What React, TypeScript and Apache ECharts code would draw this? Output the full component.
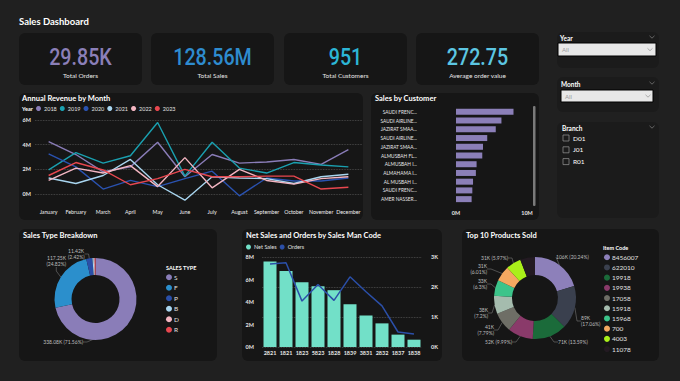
import React, { useEffect, useRef } from 'react';
import * as echarts from 'echarts';

// ---------- data ----------
const kpiValues = ['29.85K', '128.56M', '951', '272.75'];
const kpiLabels = ['Total Orders', 'Total Sales', 'Total Customers', 'Average order value'];

const months = ['January', 'February', 'March', 'April', 'May', 'June', 'July', 'August', 'September', 'October', 'November', 'December'];
const years = ['2018', '2019', '2020', '2021', '2022', '2023'];
const rev2018 = [4.24, 3.2, 1.8, 2.2, 4.2, 1.4, 3.2, 2.5, 2.6, 2.8, 2.4, 3.6];
const rev2019 = [1.95, 3.35, 2.5, 3.1, 5.8, 1.45, 4.2, 2.1, 1.7, 2.55, 2.35, 2.2];
const rev2020 = [3.25, 2.2, 0.4, 1.1, 0.6, 1.25, 1.85, -0.15, 1.3, 1.05, 1.05, 1.3];
const rev2021 = [1.3, 0.85, 1.5, 2.8, 0.75, -0.5, 1.4, 1.3, 1.25, 0.85, 1.4, 1.6];
const rev2022 = [1.1, 2.1, 1.7, 2.3, 0.6, 2.95, 0.5, 2.0, 1.1, 0.8, 1.25, 1.4];
const rev2023 = [1.5, 2.55, 1.95, 0.75, 1.25, 2.0, 1.4, 1.4, 1.45, 1.45, 0.4, 0.55];
const revenueByYear = [rev2018, rev2019, rev2020, rev2021, rev2022, rev2023];

const customers = ['SAUDI FRENC...', 'SAUDI AIRLINE...', 'JAZIRAT SMAA...', 'SAUDI AIRLINE...', 'JAZIRAT SMAA...', 'ALMUSBAH FL...', 'ALMUSBAH I...', 'ALMAHAMA I...', 'AL MUSBAH I...', 'SAUDI FRENC...', 'AMER NASSER...'];
const customerSales = [8.1, 6.4, 5.6, 4.4, 3.8, 3.7, 2.9, 2.8, 2.4, 2.3, 2.2];
const customerTicks = [0, 10];

const salesTypes = ['S', 'F', 'P', 'B', 'D', 'R'];
const salesTypeValues = [338.08, 117.25, 11.42, 2.4, 1.9, 1.39];

const salesmanCodes = ['2821', '1821', '1823', '5823', '1828', '1839', '3831', '2832', '1837', '1838'];
const netSales = [7.6, 6.75, 5.75, 5.4, 5.05, 3.8, 2.8, 2.1, 1.1, 0.65];
const orders = [2770, 2810, 1530, 2085, 1555, 2340, 1840, 1370, 500, 430];

const itemCodes = ['8456007', '622010', '19918', '19938', '17058', '15918', '15968', '700', '4003', '11078'];
const itemSold = [106.0, 89.35, 71.15, 52.3, 40.8, 37.7, 33.0, 31.49, 31.25, 30.6];

const branches = ['D01', 'J01', 'R01'];

// ---------- styles ----------
const FONT = 'Lato, "Open Sans", sans-serif';
const PAGE_BG = '#202020';
const PANEL_BG = '#161616';
const kpiColors = ['#8b7fb8', '#2e8ccf', '#2cb6d6', '#5cc6e2'];
const yearColors = ['#8a7db8', '#1aa0b0', '#2a52b0', '#a9d6f0', '#f4b6c2', '#e8474f'];
const salesTypeColors = ['#8a7db8', '#2b8fcc', '#2a4fa8', '#a9d6f0', '#f4b6c2', '#e8474f'];
const itemColors = ['#8d80ba', '#3a404e', '#1b6b3a', '#8a3a6a', '#6e6e66', '#a5bcae', '#3cc48a', '#f5a860', '#aaf01a', '#231a22'];

const fmtPct = (p: number) => String(parseFloat(p.toFixed(2)));

export default function App() {
  const ref = useRef<HTMLDivElement>(null);

  useEffect(() => {
    document.body.style.margin = '0';
    document.body.style.background = PAGE_BG;
    const chart = echarts.init(ref.current!, null, { renderer: 'svg' });

    const graphic: any[] = [];
    const panel = (x: number, y: number, w: number, h: number, fill = PANEL_BG) =>
      graphic.push({ type: 'rect', z: -10, silent: true, shape: { x, y, width: w, height: h, r: 6 }, style: { fill } });
    const text = (t: string, x: number, y: number, font: string, fill = '#ffffff', align = 'left', scaleX = 1) =>
      graphic.push({ type: 'text', silent: true, x, y, scaleX, style: { text: t, x: 0, y: 0, font, fill, align, verticalAlign: 'middle' } });
    const chevron = (x: number, y: number, stroke = '#777') =>
      graphic.push({ type: 'polyline', silent: true, shape: { points: [[x - 2.5, y - 1.2], [x, y + 1.2], [x + 2.5, y - 1.2]] }, style: { stroke, lineWidth: 0.8, fill: 'none' } });

    text('Sales Dashboard', 19, 21, `bold 9.5px ${FONT}`);

    // KPI cards
    const kpiX = [19, 151, 284, 416];
    kpiX.forEach((x, i) => {
      panel(x, 33, 123, 52);
      text(kpiValues[i], x + 61.5, 57, `500 24px Roboto, ${FONT}`, kpiColors[i], 'center', 0.82);
      text(kpiLabels[i], x + 61.5, 75, `6.5px ${FONT}`, '#e6e6e6', 'center');
    });

    // Filter panels
    panel(557, 32, 102, 36, '#1b1b1b');
    text('Year', 560, 38, `bold 6.5px ${FONT}`);
    chevron(652, 37);
    graphic.push({ type: 'rect', silent: true, shape: { x: 558, y: 43, width: 98, height: 13 }, style: { fill: '#e8e8e8', stroke: '#000', lineWidth: 1 } });
    text('All', 562, 49.5, `6px ${FONT}`, '#9a9a9a');
    chevron(650, 49.5, '#999');

    panel(557, 77, 102, 35, '#1b1b1b');
    text('Month', 561, 84, `bold 6.5px ${FONT}`);
    chevron(652, 83);
    graphic.push({ type: 'rect', silent: true, shape: { x: 561, y: 90, width: 92, height: 12 }, style: { fill: '#e8e8e8', stroke: '#000', lineWidth: 1 } });
    text('All', 565, 96, `6px ${FONT}`, '#9a9a9a');
    chevron(648, 96, '#999');

    panel(557, 122, 102, 96, '#1b1b1b');
    text('Branch', 562, 128, `bold 6.5px ${FONT}`);
    chevron(652, 127);
    branches.forEach((b, i) => {
      const y = 138 + i * 11.8;
      graphic.push({ type: 'rect', silent: true, shape: { x: 563, y: y - 3, width: 6, height: 6 }, style: { fill: 'none', stroke: '#9a9a9a', lineWidth: 0.7 } });
      text(b, 573, y, `6.5px ${FONT}`);
    });

    // Chart panels
    panel(19, 93, 344, 127);
    text('Annual Revenue by Month', 22, 98.5, `bold 7.5px ${FONT}`);
    text('Year', 22, 109, `bold 5.5px ${FONT}`);
    panel(371, 93, 168, 127);
    text('Sales by Customer', 375, 98.5, `bold 7.5px ${FONT}`);
    graphic.push({ type: 'rect', silent: true, shape: { x: 533, y: 106, width: 2.5, height: 100, r: 1 }, style: { fill: '#7a7a7a' } });

    panel(19, 229, 198, 132);
    text('Sales Type Breakdown', 23, 235.5, `bold 7.5px ${FONT}`);
    text('SALES TYPE', 166, 268, `bold 5.5px ${FONT}`);
    panel(242, 229, 200, 132);
    text('Net Sales and Orders by Sales Man Code', 246, 235.5, `bold 7.5px ${FONT}`);
    panel(462, 229, 197, 132);
    text('Top 10 Products Sold', 466, 235.5, `bold 7.5px ${FONT}`);
    text('Item Code', 603, 248, `bold 5.5px ${FONT}`);

    const axisLbl = { color: '#e6e6e6', fontSize: 5.5, fontWeight: 'bold' as const, fontFamily: FONT };
    const dotted = { show: true, lineStyle: { type: 'dotted' as const, color: '#555', width: 0.8 } };

    const salesTypeLabelPos = [
      { x: 83, y: 342, align: 'right' },
      { x: 66, y: 261, align: 'right' },
      { x: 68, y: 254, align: 'left' },
    ];
    const itemLabelPos = [
      { x: 556, y: 257, align: 'left' },
      { x: 581, y: 321, align: 'left' },
      { x: 558, y: 342, align: 'left' },
      { x: 512, y: 342, align: 'right' },
      { x: 494, y: 330, align: 'right' },
      { x: 488, y: 313, align: 'right' },
      { x: 487, y: 284, align: 'right' },
      { x: 487, y: 269, align: 'right' },
      { x: 508, y: 258, align: 'right' },
    ];
    const singleLineItems = [0, 2, 3, 8];

    const legendBase = { icon: 'circle', padding: 0, selectedMode: false };

    const option: any = {
      animation: false,
      backgroundColor: PAGE_BG,
      textStyle: { fontFamily: FONT },
      graphic,
      legend: [
        {
          ...legendBase, data: years, left: 36, top: 105.5, itemWidth: 5, itemHeight: 5, itemGap: 3,
          textStyle: { color: '#e0e0e0', fontSize: 5.5, fontFamily: FONT, padding: [0, 0, 0, -2] },
        },
        {
          ...legendBase, data: ['Net Sales', 'Orders'], left: 246, top: 244, itemWidth: 5, itemHeight: 5, itemGap: 3,
          textStyle: { color: '#e0e0e0', fontSize: 5.5, fontFamily: FONT, padding: [0, 0, 0, -2] },
        },
        {
          ...legendBase, data: salesTypes, orient: 'vertical', left: 166, top: 273.5, itemWidth: 6, itemHeight: 6, itemGap: 3,
          textStyle: { color: '#e0e0e0', fontSize: 6.5, lineHeight: 7.5, fontFamily: FONT, padding: [0, 0, 0, -3] },
        },
        {
          ...legendBase, data: itemCodes, orient: 'vertical', left: 604, top: 253.5, itemWidth: 6, itemHeight: 6, itemGap: 2.7,
          textStyle: { color: '#e0e0e0', fontSize: 6.5, lineHeight: 7.5, fontFamily: FONT, padding: [0, 0, 0, -3] },
        },
      ],
      grid: [
        { left: 35, top: 120, width: 327, height: 74 },
        { left: 456, top: 107.5, width: 71, height: 96 },
        { left: 262, top: 257, width: 160, height: 90 },
      ],
      xAxis: [
        {
          type: 'category', gridIndex: 0, data: months,
          axisLine: { show: false }, axisTick: { show: false },
          axisLabel: { ...axisLbl, fontWeight: 'normal', fontSize: 5.3, color: '#f0f0f0', interval: 0, margin: 15 },
        },
        {
          type: 'value', gridIndex: 1, min: customerTicks[0], max: customerTicks[1], interval: 10,
          axisLine: { show: false }, axisTick: { show: false }, splitLine: { show: false },
          axisLabel: { ...axisLbl, margin: 6, formatter: (v: number) => `${v}M` },
        },
        {
          type: 'category', gridIndex: 2, data: salesmanCodes,
          axisLine: { show: false }, axisTick: { show: false },
          axisLabel: { ...axisLbl, interval: 0, margin: 3 },
        },
      ],
      yAxis: [
        {
          type: 'value', gridIndex: 0, min: 0, max: 6, interval: 2,
          axisLine: { show: false }, axisTick: { show: false }, splitLine: dotted,
          axisLabel: { ...axisLbl, margin: 4, formatter: (v: number) => `${v}M` },
        },
        {
          type: 'category', gridIndex: 1, data: customers, inverse: true,
          axisLine: { show: false }, axisTick: { show: false },
          axisLabel: { color: '#e6e6e6', fontSize: 4.8, fontFamily: FONT, margin: 39 },
        },
        {
          type: 'value', gridIndex: 2, min: 0, max: 8, interval: 2, position: 'left',
          axisLine: { show: false }, axisTick: { show: false }, splitLine: { show: false },
          axisLabel: { ...axisLbl, margin: 8, formatter: (v: number) => `${v}M` },
        },
        {
          type: 'value', gridIndex: 2, min: 0, max: 3000, interval: 1000, position: 'right',
          axisLine: { show: false }, axisTick: { show: false }, splitLine: dotted,
          axisLabel: { ...axisLbl, margin: 9, formatter: (v: number) => `${v / 1000}K` },
        },
      ],
      series: [
        ...years.map((y, i) => ({
          type: 'line', name: y, xAxisIndex: 0, yAxisIndex: 0, data: revenueByYear[i],
          symbol: 'none', clip: false, color: yearColors[i],
          lineStyle: { width: 1.4, color: yearColors[i] },
        })),
        {
          type: 'bar', name: 'Customer Sales', xAxisIndex: 1, yAxisIndex: 1, data: customerSales,
          barWidth: 6, itemStyle: { color: '#8b7fb8' },
        },
        {
          type: 'bar', name: 'Net Sales', xAxisIndex: 2, yAxisIndex: 2, data: netSales,
          barWidth: 13, itemStyle: { color: '#72e0c8' }, color: '#72e0c8',
        },
        {
          type: 'line', name: 'Orders', xAxisIndex: 2, yAxisIndex: 3, data: orders,
          symbol: 'none', color: '#2b4fa8', lineStyle: { width: 1.5, color: '#2b4fa8' }, z: 5,
        },
        {
          type: 'pie', name: 'Sales Type', center: [95.5, 299], radius: [24, 41],
          startAngle: 90, clockwise: true, avoidLabelOverlap: false,
          data: salesTypes.map((n, i) => ({
            name: n, value: salesTypeValues[i], itemStyle: { color: salesTypeColors[i] },
            label: { show: i < 3 }, labelLine: { show: i < 3 },
          })),
          label: {
            color: '#bdbdbd', fontSize: 5, fontFamily: FONT, lineHeight: 6,
            formatter: (p: any) => `${p.value.toFixed(2)}K${p.dataIndex === 0 ? ' ' : '\n'}(${fmtPct(p.percent)}%)`,
          },
          labelLine: { length: 4, length2: 4, lineStyle: { color: '#777', width: 0.6 } },
          labelLayout: (p: any) => {
            const pos = salesTypeLabelPos[p.dataIndex];
            return pos ? { x: pos.x, y: pos.y, align: pos.align, verticalAlign: 'middle' } : {};
          },
        },
        {
          type: 'pie', name: 'Top 10', center: [535, 298], radius: [23, 41],
          startAngle: 90, clockwise: true, avoidLabelOverlap: false,
          data: itemCodes.map((n, i) => ({
            name: n, value: itemSold[i], itemStyle: { color: itemColors[i] },
            label: { show: i < 9 }, labelLine: { show: i < 9 },
          })),
          label: {
            color: '#bdbdbd', fontSize: 5, fontFamily: FONT, lineHeight: 6,
            formatter: (p: any) => `${Math.round(p.value)}K${singleLineItems.includes(p.dataIndex) ? ' ' : '\n'}(${fmtPct(p.percent)}%)`,
          },
          labelLine: { length: 4, length2: 4, lineStyle: { color: '#777', width: 0.6 } },
          labelLayout: (p: any) => {
            const pos = itemLabelPos[p.dataIndex];
            return pos ? { x: pos.x, y: pos.y, align: pos.align, verticalAlign: 'middle' } : {};
          },
        },
      ],
    };

    chart.setOption(option);
    return () => chart.dispose();
  }, []);

  return <div ref={ref} style={{ position: 'fixed', left: 0, top: 0, width: 680, height: 381 }} />;
}
